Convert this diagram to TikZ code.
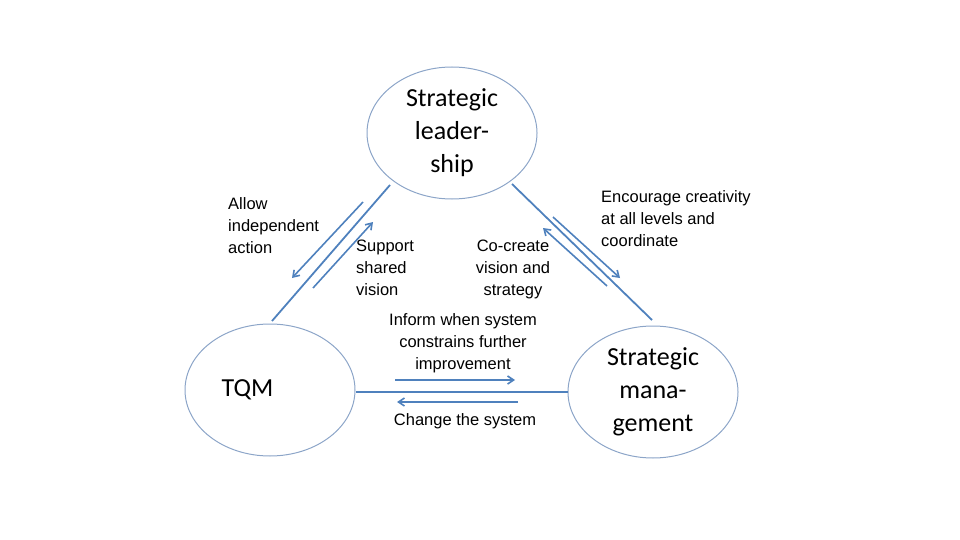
\documentclass[tikz,border=0pt]{standalone}
\usepackage{fontspec}
\setmainfont{Liberation Sans}
\newfontfamily\calib{Carlito}
\usetikzlibrary{shapes.geometric,arrows.meta}
\definecolor{bl}{RGB}{79,129,189}
\definecolor{el}{RGB}{140,165,200}
\begin{document}
\begin{tikzpicture}[x=1pt,y=-1pt,
 circ/.style={ellipse,draw=el,line width=1pt,minimum width=170pt,minimum height=132pt,align=center,font=\calib\fontsize{26}{33}\selectfont,inner sep=0pt},
 lbl/.style={align=center,font=\fontsize{16.5}{22}\selectfont,inner sep=0pt},
 lbll/.style={lbl,align=left,anchor=north west},
 arr/.style={draw=bl,line width=1.6pt,-{Straight Barb[length=6pt,width=8pt]}},
 edge/.style={draw=bl,line width=1.8pt}]
\useasboundingbox (0,0) rectangle (960,540);
\node[circ] (sl) at (452,133) {Strategic\\leader-\\ship};
\node[circ] (tqm) at (270,390) {\hspace*{-45pt}TQM};
\node[circ] (sm) at (653,392) {Strategic\\mana-\\gement};
\draw[edge] (390,185) -- (272,321);
\draw[edge] (512,184) -- (652,320);
\draw[edge] (tqm.east |- 0,392) -- (sm.west |- 0,392);
\coordinate (a1) at (363,202); \coordinate (a2) at (292,278);
\coordinate (b1) at (313,288); \coordinate (b2) at (373,222);
\coordinate (c1) at (553,217); \coordinate (c2) at (620,278);
\coordinate (d1) at (607,286); \coordinate (d2) at (543,228);
\coordinate (e1) at (395,380); \coordinate (e2) at (515,380);
\coordinate (f1) at (518,402); \coordinate (f2) at (397,402);
\draw[arr] (a1) -- (a2);
\draw[arr] (b1) -- (b2);
\draw[arr] (c1) -- (c2);
\draw[arr] (d1) -- (d2);
\draw[arr] (e1) -- (e2);
\draw[arr] (f1) -- (f2);
\node[lbll] (l1) at (228,197) {Allow\\independent\\action};
\node[lbll] (l2) at (356,240) {Support\\shared\\vision};
\node[lbl] (l3) at (513,269) {Co-create\\vision and\\strategy};
\node[lbll] (l4) at (601,190) {Encourage creativity\\at all levels and\\coordinate};
\node[lbl] (l5) at (463,343) {Inform when system\\constrains further\\improvement};
\node[lbl] (l6) at (465,421) {Change the system};
\end{tikzpicture}
\end{document}
